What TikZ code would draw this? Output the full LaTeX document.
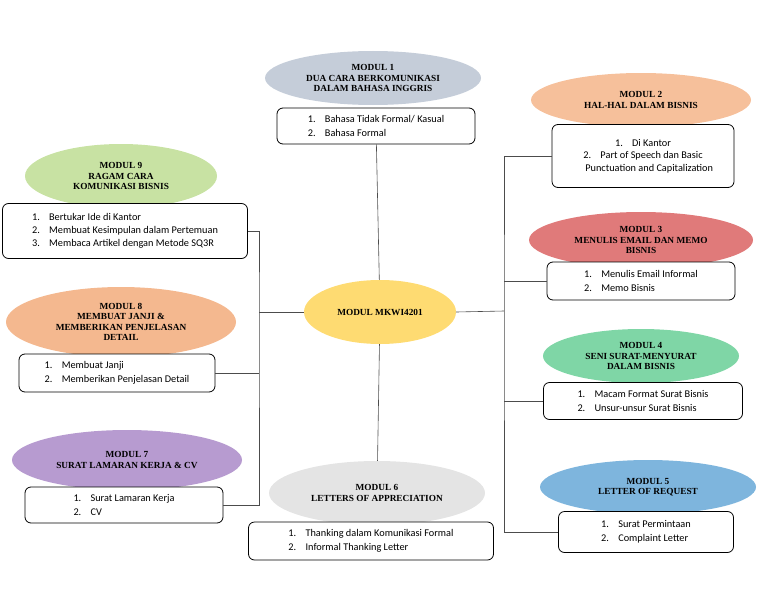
\documentclass[tikz,border=0pt]{standalone}
\usepackage{fontspec}
\setmainfont{Liberation Serif}
\newfontfamily\listfont{Carlito}
\usetikzlibrary{shapes.geometric,positioning}
\definecolor{cOne}{HTML}{C5CDD9}
\definecolor{cTwo}{HTML}{F6C09B}
\definecolor{cThree}{HTML}{E07A7A}
\definecolor{cFour}{HTML}{7FD6A6}
\definecolor{cFive}{HTML}{7EB5DD}
\definecolor{cSix}{HTML}{E4E4E4}
\definecolor{cSeven}{HTML}{B79BD0}
\definecolor{cEight}{HTML}{F4B88F}
\definecolor{cNine}{HTML}{C8E2A3}
\definecolor{cMid}{HTML}{FEDB72}
\newcommand{\itm}[2]{#1.\hspace{0.9em}#2}
\begin{document}
\begin{tikzpicture}[x=1pt,y=-1pt,
  modul/.style={ellipse,inner sep=0pt,align=center,font=\fontsize{9.3}{10.5}\selectfont\bfseries},
  isi/.style={draw,rounded corners=6pt,thick,fill=white,align=left,inner sep=0pt,
    font=\listfont\fontsize{10.3}{14}\selectfont},
  link/.style={draw=black!70,semithick}]
\useasboundingbox (0,0) rectangle (768,594);
% main
\node[modul,fill=cMid,minimum width=152,minimum height=64] (mid) at (380,312) {MODUL MKWI4201};
% modules
\node[modul,fill=cOne,minimum width=216,minimum height=54] (m1) at (373,78) {MODUL 1\\DUA CARA BERKOMUNIKASI\\DALAM BAHASA INGGRIS};
\node[isi,minimum width=198,minimum height=36] (b1) at (376,126) {\itm1{Bahasa Tidak Formal/ Kasual}\\\itm2{Bahasa Formal}};
\node[modul,fill=cTwo,minimum width=220,minimum height=54] (m2) at (641,100) {MODUL 2\\HAL-HAL DALAM BISNIS};
\node[isi,minimum width=182,minimum height=63,align=center,font=\listfont\fontsize{10.3}{12.5}\selectfont] (b2) at (643,156) {\itm1{Di Kantor}\\\itm2{Part of Speech dan Basic}\\\hspace{1.2em}Punctuation and Capitalization};
\node[modul,fill=cThree,minimum width=224,minimum height=56] (m3) at (641,240) {MODUL 3\\MENULIS EMAIL DAN MEMO\\BISNIS};
\node[isi,minimum width=188,minimum height=38] (b3) at (641,281) {\itm1{Menulis Email Informal}\\\itm2{Memo Bisnis}\hspace{5.5em}};
\node[modul,fill=cFour,minimum width=196,minimum height=54] (m4) at (641,356) {MODUL 4\\SENI SURAT-MENYURAT\\DALAM BISNIS};
\node[isi,minimum width=199,minimum height=37] (b4) at (643,401) {\itm1{Macam Format Surat Bisnis}\\\itm2{Unsur-unsur Surat Bisnis}};
\node[modul,fill=cFive,minimum width=216,minimum height=54] (m5) at (648,487) {MODUL 5\\LETTER OF REQUEST};
\node[isi,minimum width=175,minimum height=41] (b5) at (646,532) {\itm1{Surat Permintaan}\\\itm2{Complaint Letter}};
\node[modul,fill=cSix,minimum width=216,minimum height=64] (m6) at (377,493) {MODUL 6\\LETTERS OF APPRECIATION};
\node[isi,minimum width=245,minimum height=38] (b6) at (371,541) {\itm1{Thanking dalam Komunikasi Formal}\\\itm2{Informal Thanking Letter}};
\node[modul,fill=cSeven,minimum width=230,minimum height=60] (m7) at (127,460) {MODUL 7\\SURAT LAMARAN KERJA \& CV};
\node[isi,minimum width=198,minimum height=36] (b7) at (124,505) {\itm1{Surat Lamaran Kerja}\\\itm2{CV}\hspace{6.5em}};
\node[modul,fill=cEight,minimum width=230,minimum height=70] (m8) at (121,322) {MODUL 8\\MEMBUAT JANJI \&\\MEMBERIKAN PENJELASAN\\DETAIL};
\node[isi,minimum width=196,minimum height=38] (b8) at (117,373) {\itm1{Membuat Janji}\hspace{6em}\\\itm2{Memberikan Penjelasan Detail}};
\node[modul,fill=cNine,minimum width=192,minimum height=64] (m9) at (121,176) {MODUL 9\\RAGAM CARA\\KOMUNIKASI BISNIS};
\node[isi,minimum width=245,minimum height=55,font=\listfont\fontsize{10.3}{13}\selectfont] (b9) at (125,231) {\itm1{Bertukar Ide di Kantor}\\\itm2{Membuat Kesimpulan dalam Pertemuan}\\\itm3{Membaca Artikel dengan Metode SQ3R}};
% buses
\coordinate (rbus) at (504,311);
\coordinate (lbus) at (259,312);
\draw[link] (mid) -- (b1);
\draw[link] (mid) -- (m6);
\draw[link] (mid.east) -- (rbus);
\draw[link] (mid.west) -- (lbus);
\draw[link] (b2.west) -| (rbus) |- (b5.west);
\draw[link] (b3.west) -- (b3.west -| rbus);
\draw[link] (b4.west) -- (b4.west -| rbus);
\draw[link] (b9.east) -| (lbus) |- (b7.east);
\draw[link] (b8.east) -- (b8.east -| lbus);
\end{tikzpicture}
\end{document}
